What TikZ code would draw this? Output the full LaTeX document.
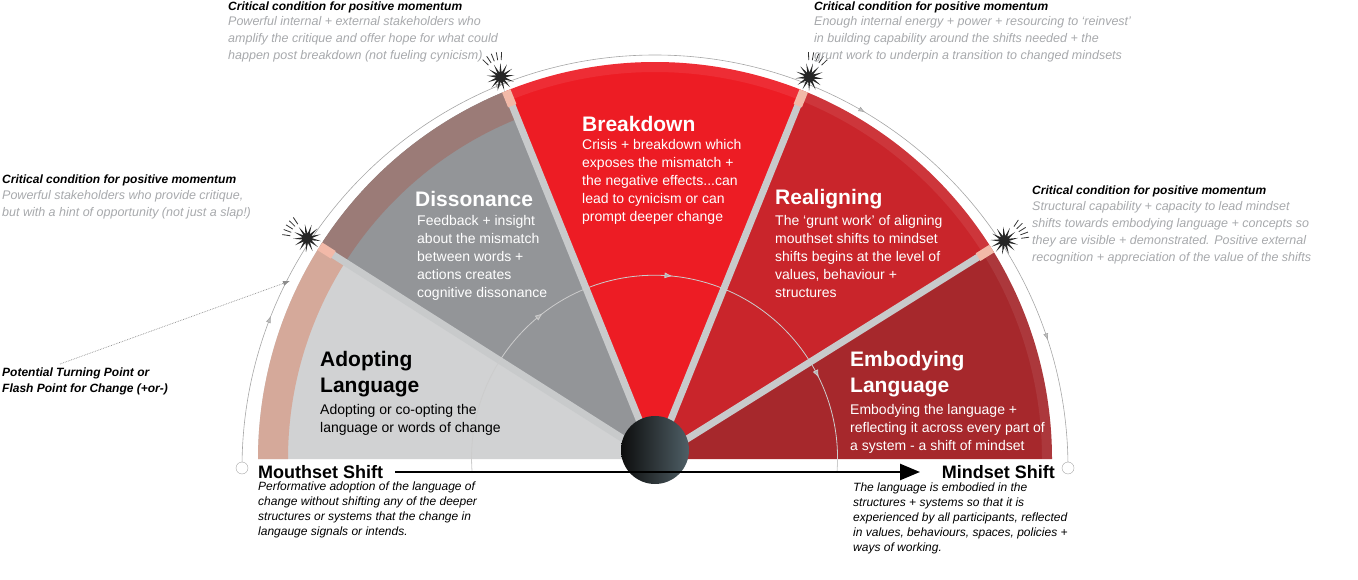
\documentclass[tikz,border=0pt]{standalone}
\usepackage{fontspec}
\setmainfont{Liberation Sans}
\usetikzlibrary{arrows.meta,decorations.markings,shapes.geometric,calc}
\definecolor{cAdopt}{HTML}{D1D2D3}
\definecolor{cDiss}{HTML}{939598}
\definecolor{cBreak}{HTML}{ED1C24}
\definecolor{cReal}{HTML}{C9252B}
\definecolor{cEmb}{HTML}{A6282C}
\definecolor{bAdopt}{HTML}{D5A99A}
\definecolor{bDiss}{HTML}{9B7B77}
\definecolor{cSep}{HTML}{C8CACB}
\definecolor{cPink}{HTML}{F2B9A8}
\definecolor{cGrayTxt}{HTML}{A7A9AC}
\definecolor{cBallR}{HTML}{4F5F66}
\tikzset{
 x=1pt,y=1pt,
 ttl/.style={anchor=north west,font=\fontsize{21}{26}\selectfont\bfseries,align=left,inner sep=0},
 body/.style={anchor=north west,font=\fontsize{14}{18}\selectfont,align=left,inner sep=0},
 crit/.style={anchor=north west,font=\fontsize{12}{15.5}\selectfont\bfseries\itshape,align=left,inner sep=0},
 critb/.style={anchor=north west,font=\fontsize{12.5}{17}\selectfont\itshape,text=cGrayTxt,align=left,inner sep=0},
 note/.style={anchor=north west,font=\fontsize{12}{15}\selectfont\itshape,align=left,inner sep=0},
 sep/.style={cSep,line width=7pt},
 burst/.style={star,star points=13,star point ratio=3,fill=black!85,minimum size=28pt,inner sep=0},
 garrow/.style={draw=black!35,line width=0.6pt,postaction={decorate}},
}
\begin{document}
\begin{tikzpicture}
\useasboundingbox (0,0) rectangle (1358,579);
% outer thin arc
\begin{scope}[shift={(655,111)}]
 \draw[garrow,decoration={markings,
   mark=at position 0.12 with {\arrow{Latex[length=7pt,width=5pt,fill=black!25]}},
   mark=at position 0.38 with {\arrow{Latex[length=7pt,width=5pt,fill=black!25]}},
   mark=at position 0.67 with {\arrow{Latex[length=7pt,width=5pt,fill=black!25]}},
   mark=at position 0.9 with {\arrow{Latex[length=7pt,width=5pt,fill=black!25]}}}]
   (180:413) arc[start angle=180,end angle=0,radius=413];
 \draw[black!35,fill=white] (-413,0) coordinate (oL) circle (6);
 \draw[black!35,fill=white] (413,0) coordinate (oR) circle (6);
\end{scope}
% fan
\begin{scope}[shift={(655,120)}]
 \coordinate (C) at (0,0);
 \fill[cAdopt] (0,0) -- (180:397) arc[start angle=180,end angle=147.6,radius=397] -- cycle;
 \fill[cDiss] (0,0) -- (147.6:397) arc[start angle=147.6,end angle=112,radius=397] -- cycle;
 \fill[cBreak] (0,0) -- (112:397) arc[start angle=112,end angle=68,radius=397] -- cycle;
 \fill[cReal] (0,0) -- (68:397) arc[start angle=68,end angle=32,radius=397] -- cycle;
 \fill[cEmb] (0,0) -- (32:397) arc[start angle=32,end angle=0,radius=397] -- cycle;
 % bands
 \fill[bAdopt] (180:397) arc[start angle=180,end angle=147.6,radius=397] -- (147.6:367) arc[start angle=147.6,end angle=180,radius=367] -- cycle;
 \fill[bDiss] (147.6:397) arc[start angle=147.6,end angle=112,radius=397] -- (112:367) arc[start angle=112,end angle=147.6,radius=367] -- cycle;
 \fill[white,opacity=0.08] (112:397) arc[start angle=112,end angle=0,radius=397] -- (0:387) arc[start angle=0,end angle=112,radius=387] -- cycle;
 % separators
 \foreach \a in {147.6,112,68,32} {
   \draw[sep] (0,0) -- (\a:392);
   \fill[cPink] (\a:381) ++(\a+90:4.5) -- ++(\a:16) -- ++(\a-90:9) -- ++(\a+180:16) -- cycle;
 }
 \foreach \a/\n in {147.6/b1,112/b2,68/b3,32/b4} {
   \node[burst,rotate=\a] (\n) at (\a:412) {};
   \foreach \d in {-24,-12,0,12,24} \draw[black!80,line width=0.8pt] (\a:412) ++(\a+\d:17) -- ++(\a+\d:8);
 }
 % inner arc
 \draw[garrow,decoration={markings,
   mark=at position 0.3 with {\arrow{Latex[length=8pt,width=6pt,fill=black!30]}},
   mark=at position 0.53 with {\arrow{Latex[length=8pt,width=6pt,fill=black!30]}},
   mark=at position 0.84 with {\arrow{Latex[length=8pt,width=6pt,fill=black!30]}}},
   draw=white!80!black,line width=0.8pt]
   (-183,-12) arc[start angle=184,end angle=-4,radius=183];
\end{scope}
\shade[left color=black!95,right color=cBallR] (655,129) circle (34);
\node[circle,minimum size=68pt,inner sep=0] (ball) at (655,129) {};
% main arrow
\coordinate (ms) at (395,107);
\coordinate (me) at (920,107);
\draw[line width=2.5pt,-{Triangle[length=20pt,width=16pt]}] (ms) -- (me);
% sector texts
\node[ttl] at (320,228) {Adopting\\Language};
\node[body] at (320,175) {Adopting or co-opting the\\language or words of change};
\node[ttl,text=white] at (415,388) {Dissonance};
\node[body,text=white] at (417,364) {Feedback + insight\\about the mismatch\\between words +\\actions creates\\cognitive dissonance};
\node[ttl,text=white] at (582,463) {Breakdown};
\node[body,text=white] at (582,440) {Crisis + breakdown which\\exposes the mismatch +\\the negative effects...can\\lead to cynicism or can\\prompt deeper change};
\node[ttl,text=white] at (775,390) {Realigning};
\node[body,text=white] at (775,364) {The `grunt work' of aligning\\mouthset shifts to mindset\\shifts begins at the level of\\values, behaviour +\\structures};
\node[ttl,text=white] at (850,228) {Embodying\\Language};
\node[body,text=white] at (850,175) {Embodying the language +\\reflecting it across every part of\\a system - a shift of mindset};
% bottom labels
\node[anchor=west,font=\fontsize{18}{20}\selectfont\bfseries,inner sep=0] (mouth) at (258,107) {Mouthset Shift};
\node[anchor=east,font=\fontsize{18}{20}\selectfont\bfseries,inner sep=0] (mind) at (1055,107) {Mindset Shift};
\node[note] at (258,97) {Performative adoption of the language of\\change without shifting any of the deeper\\structures or systems that the change in\\langauge signals or intends.};
\node[note] at (853,96) {The language is embodied in the\\structures + systems so that it is\\experienced by all participants, reflected\\in values, behaviours, spaces, policies +\\ways of working.};
% critical conditions
\node[crit] at (228,577) {Critical condition for positive momentum};
\node[critb] at (228,563) {Powerful internal + external stakeholders who\\amplify the critique and offer hope for what could\\happen post breakdown (not fueling cynicism)};
\node[crit] at (2,404) {Critical condition for positive momentum};
\node[critb] at (2,389) {Powerful stakeholders who provide critique,\\but with a hint of opportunity (not just a slap!)};
\node[crit] at (814,577) {Critical condition for positive momentum};
\node[critb] at (814,563) {Enough internal energy + power + resourcing to `reinvest'\\in building capability around the shifts needed + the\\grunt work to underpin a transition to changed mindsets};
\node[crit] at (1032,393) {Critical condition for positive momentum};
\node[critb] at (1032,378) {Structural capability + capacity to lead mindset\\shifts towards embodying language + concepts so\\they are visible + demonstrated. Positive external\\recognition + appreciation of the value of the shifts};
\node[crit] (ptp) at (2,211) {Potential Turning Point or\\Flash Point for Change (+or-)};
\coordinate (ptpEnd) at (290,298);
\draw[black!45,densely dotted,line width=0.7pt,-{Latex[length=7pt,width=5pt]}] (60,215) -- (ptpEnd);
\end{tikzpicture}
\end{document}
